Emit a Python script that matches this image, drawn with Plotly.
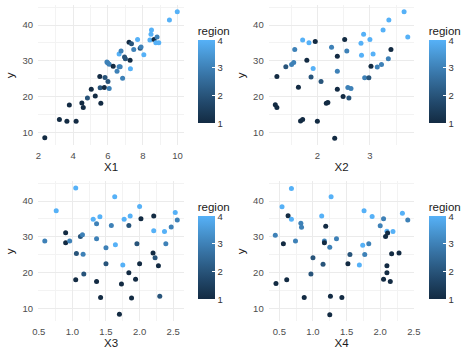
import plotly.graph_objects as go
import numpy as np

# ---------------- data ----------------
y_ticks = [10, 20, 30, 40]
cbar_ticks = [1, 2, 3, 4]

x1 = [2.37, 3.21, 3.64, 4.17, 3.78, 4.50, 4.58, 4.82, 5.04, 5.27, 5.53, 5.55, 5.59, 5.79,
      5.83, 6.00, 6.07, 5.94, 5.99, 6.07, 6.30, 6.52, 6.64, 6.70, 6.64, 6.75, 6.84, 6.95,
      7.00, 7.27, 7.29, 7.21, 7.35, 7.48, 7.70, 7.85, 7.90, 8.06, 8.41, 8.47, 8.50, 8.65,
      8.75, 8.82, 8.92, 9.53, 9.98]
y1 = [8.6, 13.7, 13.2, 13.2, 17.7, 18.3, 17.0, 19.7, 22.1, 20.2, 25.7, 22.5, 18.2, 22.6,
      25.4, 24.3, 22.3, 29.7, 29.4, 29.1, 28.5, 27.1, 28.4, 28.4, 31.9, 32.8, 25.2, 31.1,
      30.6, 30.2, 27.8, 35.2, 34.8, 33.2, 36.0, 33.5, 33.9, 31.7, 35.8, 37.4, 38.6, 36.0,
      35.1, 36.7, 35.1, 41.4, 43.7]
r1 = [1, 1, 1, 1, 1, 1, 1, 2, 1, 1, 1, 2, 1, 1,
      2, 2, 3, 3, 3, 3, 1, 3, 3, 3, 4, 3, 3, 2,
      2, 1, 4, 1, 2, 3, 4, 2, 3, 4, 4, 4, 4, 1,
      4, 3, 4, 4, 4]

x2 = [1.23, 1.20, 1.23, 1.40, 1.51, 1.55, 1.57, 1.72, 1.84, 1.96, 1.80, 1.64, 1.68, 1.72,
      2.00, 1.88, 1.92, 2.07, 2.17, 2.20, 2.27, 2.33, 2.38, 2.38, 2.38, 2.49, 2.52, 2.56,
      2.58, 2.60, 2.64, 2.83, 2.84, 2.88, 2.90, 2.98, 3.00, 3.02, 3.06, 3.14, 3.22, 3.25,
      3.35, 3.36, 3.40, 3.65, 3.72]
y2 = [25.7, 17.8, 17.0, 28.4, 29.0, 29.6, 33.2, 35.8, 35.1, 35.4, 30.2, 22.7, 13.3, 13.7,
      13.2, 25.5, 27.9, 24.3, 18.2, 18.4, 33.8, 8.5, 22.1, 27.1, 31.3, 20.1, 36.0, 32.8,
      22.6, 19.7, 22.3, 34.9, 31.6, 37.4, 25.3, 25.3, 36.0, 28.5, 31.9, 28.3, 29.0, 38.6,
      30.6, 41.4, 33.2, 43.7, 36.7]
r2 = [1, 1, 1, 2, 3, 3, 3, 4, 4, 1, 1, 1, 1, 1,
      1, 2, 4, 2, 1, 1, 3, 1, 1, 3, 1, 1, 1, 3,
      3, 2, 3, 4, 4, 4, 3, 2, 4, 1, 4, 3, 3, 4,
      3, 4, 1, 4, 4]

x3 = [0.59, 0.76, 0.90, 0.90, 0.96, 1.05, 1.06, 1.05, 1.12, 1.15, 1.16, 1.17, 1.31, 1.36,
      1.41, 1.36, 1.36, 1.42, 1.50, 1.50, 1.58, 1.63, 1.64, 1.70, 1.73, 1.75, 1.77, 1.84,
      1.84, 1.86, 1.88, 1.94, 1.96, 2.00, 2.00, 2.02, 2.20, 2.21, 2.21, 2.23, 2.28, 2.30,
      2.37, 2.39, 2.47, 2.53, 2.56]
y3 = [28.9, 37.3, 31.2, 28.4, 28.9, 43.6, 25.4, 18.1, 30.1, 30.6, 25.2, 19.7, 34.9, 33.7,
      35.6, 29.5, 17.6, 13.1, 27.0, 22.5, 33.2, 41.2, 27.8, 8.5, 16.9, 22.2, 34.9, 33.2,
      20.0, 35.8, 13.0, 18.2, 28.1, 38.5, 22.5, 35.1, 25.5, 35.8, 31.7, 24.2, 22.0, 13.5,
      31.5, 28.1, 32.8, 36.8, 34.7]
r3 = [3, 4, 1, 1, 3, 4, 2, 1, 2, 3, 3, 2, 4, 3,
      4, 3, 1, 1, 3, 2, 3, 4, 4, 1, 1, 4, 4, 2,
      1, 4, 1, 1, 2, 4, 1, 1, 1, 1, 4, 2, 1, 2,
      4, 3, 3, 4, 3]

x4 = [0.45, 0.44, 0.54, 0.56, 0.61, 0.63, 0.68, 0.68, 0.74, 0.82, 0.83, 0.87, 0.97, 1.00,
      1.13, 1.15, 1.17, 1.17, 1.19, 1.25, 1.26, 1.25, 1.27, 1.35, 1.43, 1.52, 1.55, 1.69,
      1.74, 1.76, 1.77, 1.83, 1.88, 2.00, 2.05, 2.05, 2.08, 2.10, 2.10, 2.10, 2.11, 2.15,
      2.17, 2.19, 2.28, 2.33, 2.41]
y4 = [17.0, 30.5, 38.4, 28.1, 18.1, 35.9, 34.9, 43.5, 28.9, 33.8, 32.7, 13.1, 19.7, 24.2,
      35.8, 22.4, 28.9, 28.4, 33.0, 27.1, 13.5, 8.3, 41.2, 29.5, 13.1, 22.5, 25.1, 22.2,
      27.7, 37.3, 25.1, 28.1, 35.7, 33.1, 35.1, 18.2, 30.1, 31.6, 22.0, 20.0, 31.1, 17.6,
      25.3, 31.5, 25.5, 36.6, 34.7]
r4 = [1, 3, 4, 1, 1, 1, 4, 4, 3, 3, 3, 1, 2, 2,
      4, 2, 3, 1, 1, 3, 1, 1, 4, 3, 1, 1, 2, 4,
      4, 4, 3, 3, 4, 3, 3, 1, 1, 4, 1, 1, 1, 1,
      1, 4, 1, 4, 3]

panels = [
    ("X1", x1, y1, r1),
    ("X2", x2, y2, r2),
    ("X3", x3, y3, r3),
    ("X4", x4, y4, r4),
]

# ---------------- colour scale (ggplot2 default gradient, Lab interpolation) ----------------
def _hex_to_rgb(h):
    h = h.lstrip("#")
    return np.array([int(h[i:i + 2], 16) / 255 for i in (0, 2, 4)])

def _lin(c):
    return np.where(c <= 0.04045, c / 12.92, ((c + 0.055) / 1.055) ** 2.4)

def _delin(c):
    c = np.clip(c, 0, 1)
    return np.where(c <= 0.0031308, 12.92 * c, 1.055 * c ** (1 / 2.4) - 0.055)

_M = np.array([[0.4124, 0.3576, 0.1805], [0.2126, 0.7152, 0.0722], [0.0193, 0.1192, 0.9505]])
_W = np.array([0.95047, 1.0, 1.08883])

def _f(t):
    return np.where(t > 216 / 24389, np.cbrt(t), (24389 / 27 * t + 16) / 116)

def _finv(t):
    return np.where(t ** 3 > 216 / 24389, t ** 3, (116 * t - 16) / (24389 / 27))

def to_lab(h):
    xyz = _M @ _lin(_hex_to_rgb(h)) / _W
    fx, fy, fz = _f(xyz)
    return np.array([116 * fy - 16, 500 * (fx - fy), 200 * (fy - fz)])

def from_lab(lab):
    L, a, b = lab
    fy = (L + 16) / 116
    fx = fy + a / 500
    fz = fy - b / 200
    xyz = np.array([_finv(fx), _finv(fy), _finv(fz)]) * _W
    rgb = _delin(np.linalg.inv(_M) @ xyz)
    return "#%02x%02x%02x" % tuple(int(round(v * 255)) for v in rgb)

lo, hi = to_lab("#132B43"), to_lab("#56B1F7")
colorscale = [[t, from_lab(lo + (hi - lo) * t)] for t in np.linspace(0, 1, 13)]

# ---------------- figure ----------------
W, H = 474, 353
FONT = "Liberation Sans, Arial, sans-serif"
fig = go.Figure()

x_dom = [[33 / W, 182.5 / W], [269.5 / W, 419 / W]]
y_dom = [[1 - 145.2 / H, 1 - 5.4 / H], [1 - 321.2 / H, 1 - 181.4 / H]]
cb_x = [196.7 / W, 433.7 / W]
cb_bottom = [1 - 123.3 / H, 1 - 299.3 / H]
cb_len = (123.3 - 23.0) / H
x_dticks = [(2, 1, None), (1, 0.5, None), (0.5, 0.25, ".1f"), (0.5, 0.25, ".1f")]

all_y = y1 + y2 + y3 + y4
ylo, yhi = min(all_y), max(all_y)
ypad = (yhi - ylo) * 0.05
yrange = [ylo - ypad, yhi + ypad]

grid_major = "#EBEBEB"
grid_minor = "#F3F3F3"

for i, (name, xs, ys, rs) in enumerate(panels):
    row, col = divmod(i, 2)
    k = "" if i == 0 else str(i + 1)
    ca = "coloraxis" + k
    fig.add_trace(go.Scatter(
        x=xs, y=ys, mode="markers",
        marker=dict(color=rs, coloraxis=ca, size=5, line=dict(width=0)),
        xaxis="x" + k, yaxis="y" + k, showlegend=False,
    ))
    xlo, xhi = min(xs), max(xs)
    xpad = (xhi - xlo) * 0.05
    dt, mdt, fmt = x_dticks[i]
    xa = dict(
        domain=x_dom[col], range=[xlo - xpad, xhi + xpad], anchor="y" + k,
        dtick=dt, tick0=0, showgrid=True, gridcolor=grid_major, gridwidth=1,
        minor=dict(dtick=mdt, tick0=0, showgrid=True, gridcolor=grid_minor, gridwidth=0.6),
        zeroline=False, showline=False, ticks="", ticklabelstandoff=3,
        tickfont=dict(size=9.5, color="#4D4D4D", family=FONT),
        title=dict(text=name, font=dict(size=11.5, color="#1a1a1a", family=FONT), standoff=3),
    )
    if fmt:
        xa["tickformat"] = fmt
    ya = dict(
        domain=y_dom[row], range=yrange, anchor="x" + k,
        tickvals=y_ticks, showgrid=True, gridcolor=grid_major, gridwidth=1,
        minor=dict(dtick=5, tick0=0, showgrid=True, gridcolor=grid_minor, gridwidth=0.6),
        zeroline=False, showline=False, ticks="", ticklabelstandoff=4,
        tickfont=dict(size=9.5, color="#4D4D4D", family=FONT),
        title=dict(text="y", font=dict(size=11.5, color="#1a1a1a", family=FONT), standoff=5),
    )
    fig.layout["xaxis" + k] = xa
    fig.layout["yaxis" + k] = ya
    fig.layout[ca] = dict(
        colorscale=colorscale, cmin=1, cmax=4,
        colorbar=dict(
            title=dict(text="region", side="top", font=dict(size=11.5, color="#1a1a1a", family=FONT)),
            x=cb_x[col], xanchor="left", y=cb_bottom[row], yanchor="bottom",
            len=cb_len, lenmode="fraction", thickness=16.6, thicknessmode="pixels",
            xpad=0, ypad=0, outlinewidth=0,
            tickvals=cbar_ticks, ticks="inside", ticklen=3, tickcolor="white", tickwidth=1,
            tickfont=dict(size=9.5, color="#333333", family=FONT),
        ),
    )

fig.update_layout(
    width=W, height=H, autosize=False,
    margin=dict(l=0, r=0, t=0, b=0),
    paper_bgcolor="white", plot_bgcolor="white",
    font=dict(family=FONT),
)

fig.write_html("out.html")
